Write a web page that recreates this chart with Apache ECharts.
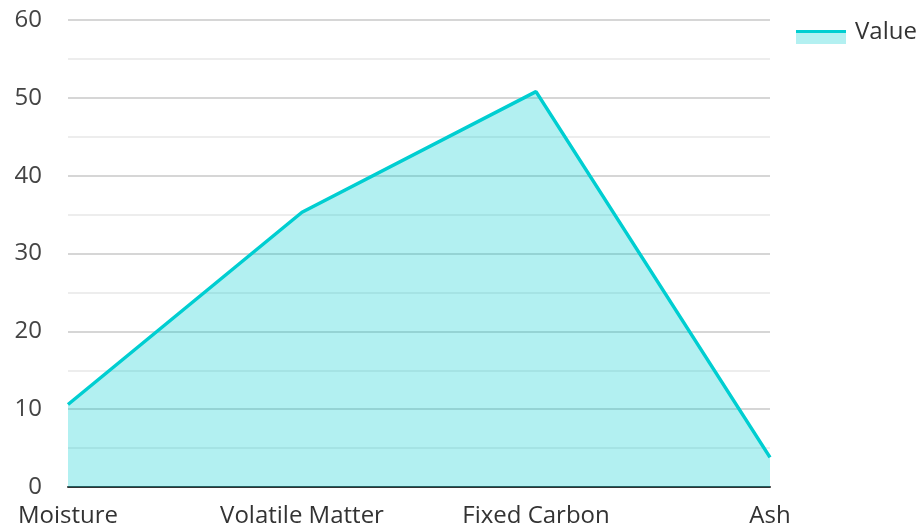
<!DOCTYPE html>
<html><head><meta charset="utf-8">
<script src="https://cdn.jsdelivr.net/npm/echarts@6/dist/echarts.min.js"></script>
<style>html,body{margin:0;padding:0;background:#fff}#c{width:919px;height:528px}</style>
</head><body><div id="c"></div>
<script>
const categories = ['Moisture', 'Volatile Matter', 'Fixed Carbon', 'Ash'];
const values = [10.6, 35.3, 50.8, 3.8];
const seriesName = 'Value';

const chart = echarts.init(document.getElementById('c'));
chart.setOption({
  animation: false,
  textStyle: { fontFamily: 'Open Sans' },
  grid: { left: 68, right: 149, top: 20, bottom: 41, containLabel: false },
  legend: {
    data: [seriesName],
    left: 796, top: 20, padding: 0,
    itemWidth: 50, itemHeight: 24,
    icon: 'path://M0,0H50V24H0Z',
    itemStyle: {
      color: { type: 'linear', x: 0, y: 0, x2: 0, y2: 1, colorStops: [
        { offset: 0, color: 'rgba(255,255,255,0)' }, { offset: 0.417, color: 'rgba(255,255,255,0)' },
        { offset: 0.417, color: '#00CED1' }, { offset: 0.56, color: '#00CED1' },
        { offset: 0.56, color: '#b3f0f1' }, { offset: 1, color: '#b3f0f1' } ] },
      borderWidth: 0
    },
    lineStyle: { width: 0, opacity: 0 },
    textStyle: { fontSize: 24, color: '#333', fontFamily: 'Open Sans', padding: [0, 0, 0, 4] }
  },
  xAxis: {
    type: 'category', data: categories, boundaryGap: false,
    axisLine: { lineStyle: { color: '#333', width: 2 } },
    axisTick: { show: false },
    axisLabel: { fontSize: 24, color: '#333', margin: 17, fontFamily: 'Open Sans' },
    splitLine: { show: false }
  },
  yAxis: {
    type: 'value', min: 0, max: 60, interval: 10,
    axisLine: { show: false }, axisTick: { show: false },
    axisLabel: { fontSize: 24, color: '#444', margin: 26, fontFamily: 'Open Sans' },
    splitLine: { lineStyle: { color: '#c8c8c8', width: 1.5 } },
    minorTick: { show: false, splitNumber: 2 },
    minorSplitLine: { show: true, lineStyle: { color: '#e8e8e8', width: 1.5 } }
  },
  series: [{
    name: seriesName, type: 'line', data: values,
    symbol: 'none',
    lineStyle: { color: '#00CED1', width: 3.5 },
    itemStyle: { color: '#00CED1' },
    areaStyle: { color: '#00CED1', opacity: 0.3 }
  }]
});
</script></body></html>
